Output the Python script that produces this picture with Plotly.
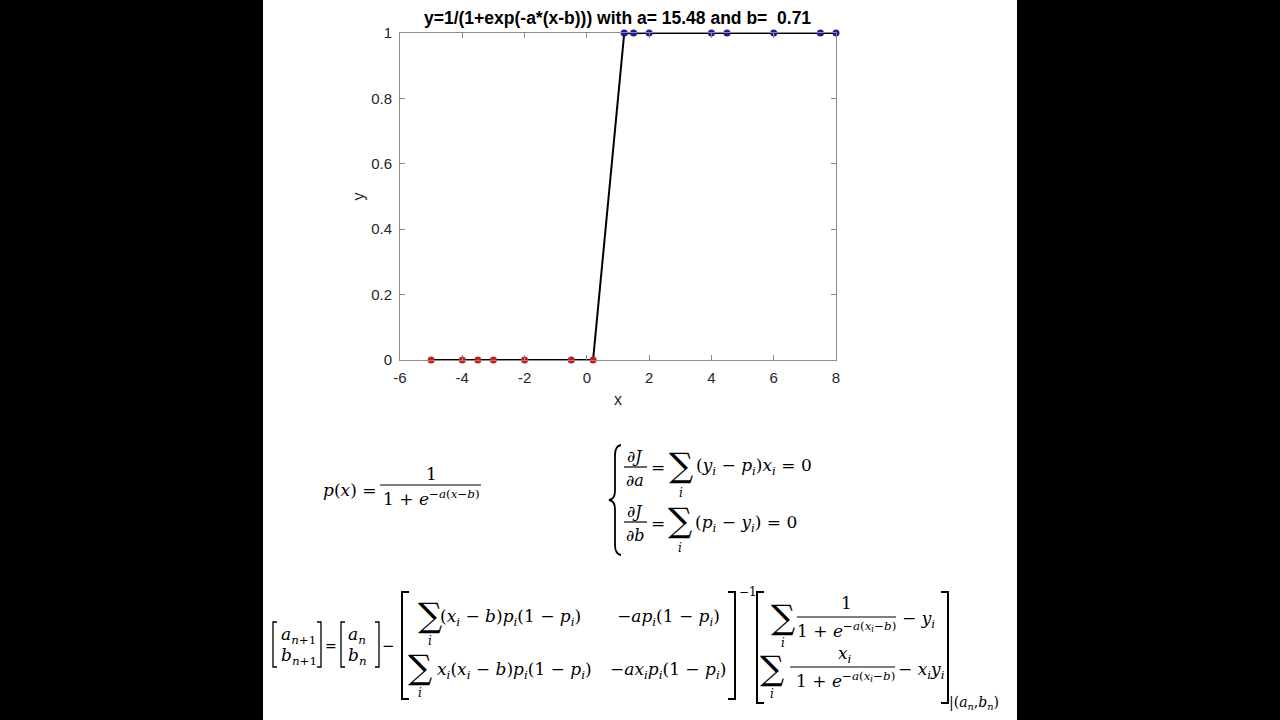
import plotly.graph_objects as go

# ---------------- data ----------------
x_class0 = [-5, -4, -3.5, -3, -2, -0.5, 0.2]
y_class0 = [0, 0, 0, 0, 0, 0, 0]
x_class1 = [1.2, 1.5, 2, 4, 4.5, 6, 7.5, 8]
y_class1 = [1, 1, 1, 1, 1, 1, 1, 1]
fit_x = [-5, -4, -3.5, -3, -2, -0.5, 0.2, 1.2, 1.5, 2, 4, 4.5, 6, 7.5, 8]
fit_y = [0, 0, 0, 0, 0, 0, 0.0004, 0.9995, 1, 1, 1, 1, 1, 1, 1]

title_text = "y=1/(1+exp(-a*(x-b))) with a= 15.48 and b=\u00a0 0.71"
x_ticks = [-6, -4, -2, 0, 2, 4, 6, 8]
y_ticks = [0, 0.2, 0.4, 0.6, 0.8, 1]
y_tick_labels = ["0", "0.2", "0.4", "0.6", "0.8", "1"]

# ---------------- layout helpers ----------------
W, H = 1280, 720
PL, PR, PT, PB = 400, 836, 33, 360


def px(x):
    return (x - PL) / (PR - PL)


def py(y):
    return (PB - y) / (PB - PT)


MATH = "DejaVu Serif"


def T(x, y, text, size=17, xa="left", ya="middle"):
    return dict(x=px(x), y=py(y), xref="paper", yref="paper", text=text,
                showarrow=False, xanchor=xa, yanchor=ya, borderpad=0,
                font=dict(family=MATH, size=size, color="black"))


def L(x0, y0, x1, y1, w=1.2):
    return dict(type="line", xref="paper", yref="paper",
                x0=px(x0), y0=py(y0), x1=px(x1), y1=py(y1),
                line=dict(color="black", width=w))


def PATH(pts, w=1.6):
    d = ""
    for cmd, coords in pts:
        d += cmd + " " + " ".join(f"{px(a):.5f},{py(b):.5f}" for a, b in coords) + " "
    return dict(type="path", xref="paper", yref="paper", path=d.strip(),
                line=dict(color="black", width=w))


def LB(x0, x1, y0, y1, w=1.6):
    return PATH([("M", [(x1, y0)]), ("L", [(x0, y0)]), ("L", [(x0, y1)]), ("L", [(x1, y1)])], w)


def RB(x0, x1, y0, y1, w=1.6):
    return PATH([("M", [(x0, y0)]), ("L", [(x1, y0)]), ("L", [(x1, y1)]), ("L", [(x0, y1)])], w)


def sub(s):
    return f"<sub>{s}</sub>"


ii = sub("<i>i</i>")
SUM = 34

fig = go.Figure()
fig.add_trace(go.Scatter(x=fit_x, y=fit_y, mode="lines",
                         line=dict(color="black", width=2), cliponaxis=False,
                         showlegend=False, hoverinfo="skip"))
fig.add_trace(go.Scatter(x=x_class0, y=y_class0, mode="markers",
                         marker=dict(color="#c81e1e", size=7, line=dict(width=0)), cliponaxis=False,
                         showlegend=False))
fig.add_trace(go.Scatter(x=x_class1, y=y_class1, mode="markers",
                         marker=dict(color="#1c1c9c", size=7, line=dict(width=0)), cliponaxis=False,
                         showlegend=False))

shapes = []
anns = []

# white page
shapes.append(dict(type="rect", xref="paper", yref="paper", layer="below",
                   x0=px(263), x1=px(1017), y0=py(720), y1=py(0),
                   fillcolor="white", line=dict(width=0)))

# title
anns.append(dict(x=px(617), y=py(18), xref="paper", yref="paper", text="<b>" + title_text + "</b>",
                 showarrow=False, xanchor="center", yanchor="middle",
                 font=dict(family="Liberation Sans", size=17.5, color="black")))

# ---- formula 1 ----
anns.append(T(322, 490, "<i>p</i>(<i>x</i>) ="))
anns.append(T(431, 474, "1", xa="center"))
shapes.append(L(380, 485, 481, 485))
anns.append(T(431, 498, "1 + <i>e</i><sup>−<i>a</i>(<i>x</i>−<i>b</i>)</sup>", xa="center"))

# ---- system ----
shapes.append(PATH([("M", [(621, 445)]), ("Q", [(615, 446), (615, 455)]),
                    ("L", [(615, 491)]), ("Q", [(615, 499), (609, 500)]),
                    ("Q", [(615, 501), (615, 509)]), ("L", [(615, 545)]),
                    ("Q", [(615, 554), (621, 555)])], 1.8))
anns.append(T(635, 456, "∂<i>J</i>", 16, "center"))
shapes.append(L(624, 467, 647, 467))
anns.append(T(635, 480, "∂<i>a</i>", 16, "center"))
anns.append(T(650, 467, "="))
anns.append(T(681, 465, "∑", SUM, "center"))
anns.append(T(681, 493, "<i>i</i>", 12, "center"))
anns.append(T(695, 467, "(<i>y</i>" + ii + " − <i>p</i>" + ii + ")<i>x</i>" + ii + " = 0"))

anns.append(T(635, 511, "∂<i>J</i>", 16, "center"))
shapes.append(L(624, 522, 647, 522))
anns.append(T(635, 535, "∂<i>b</i>", 16, "center"))
anns.append(T(650, 523, "="))
anns.append(T(680, 520, "∑", SUM, "center"))
anns.append(T(680, 548, "<i>i</i>", 12, "center"))
anns.append(T(694, 523, "(<i>p</i>" + ii + " − <i>y</i>" + ii + ") = 0"))

# ---- Newton update ----
shapes.append(LB(273, 277, 622, 667, 1.3))
shapes.append(RB(317, 321, 622, 667, 1.3))
anns.append(T(280, 635, "<i>a</i>" + sub("<i>n</i>+1")))
anns.append(T(280, 656, "<i>b</i>" + sub("<i>n</i>+1")))
anns.append(T(331, 646, "=", 14, "center"))
shapes.append(LB(341, 345, 622, 667, 1.3))
shapes.append(RB(375, 379, 622, 667, 1.3))
anns.append(T(347, 635, "<i>a</i>" + sub("<i>n</i>")))
anns.append(T(347, 656, "<i>b</i>" + sub("<i>n</i>")))
anns.append(T(388, 646, "−", 15, "center"))

shapes.append(LB(402, 409, 592, 699, 2))
shapes.append(RB(728, 735, 592, 699, 2))
anns.append(T(430, 615, "∑", SUM, "center"))
anns.append(T(430, 641, "<i>i</i>", 12, "center"))
anns.append(T(582, 617, "(<i>x</i>" + ii + " − <i>b</i>)<i>p</i>" + ii + "(1 − <i>p</i>" + ii + ")", xa="right"))
anns.append(T(721, 617, "−<i>ap</i>" + ii + "(1 − <i>p</i>" + ii + ")", xa="right"))
anns.append(T(420, 667, "∑", SUM, "center"))
anns.append(T(420, 693, "<i>i</i>", 12, "center"))
anns.append(T(593, 670, "<i>x</i>" + ii + "(<i>x</i>" + ii + " − <i>b</i>)<i>p</i>" + ii + "(1 − <i>p</i>" + ii + ")", xa="right"))
anns.append(T(727, 670, "−<i>ax</i>" + ii + "<i>p</i>" + ii + "(1 − <i>p</i>" + ii + ")", xa="right"))
anns.append(T(738, 592, "−1", 12))

shapes.append(LB(757, 764, 592, 703, 2))
shapes.append(RB(941, 948, 592, 703, 2))
anns.append(T(783, 617, "∑", SUM, "center"))
anns.append(T(783, 643, "<i>i</i>", 12, "center"))
anns.append(T(846, 603, "1", xa="center"))
shapes.append(L(797, 617, 896, 617))
anns.append(T(846, 630, "1 + <i>e</i><sup>−<i>a</i>(<i>x</i><sub><i>i</i></sub>−<i>b</i>)</sup>", xa="center"))
anns.append(T(901, 619, "− <i>y</i>" + ii))
anns.append(T(772, 668, "∑", SUM, "center"))
anns.append(T(772, 694, "<i>i</i>", 12, "center"))
anns.append(T(845, 654, "<i>x</i>" + ii, xa="center"))
shapes.append(L(790, 667, 895, 667))
anns.append(T(845, 680, "1 + <i>e</i><sup>−<i>a</i>(<i>x</i><sub><i>i</i></sub>−<i>b</i>)</sup>", xa="center"))
anns.append(T(897, 670, "− <i>x</i>" + ii + "<i>y</i>" + ii))
anns.append(T(948, 703, "|(<i>a</i>" + sub("<i>n</i>") + ",<i>b</i>" + sub("<i>n</i>") + ")", 14))

axis_common = dict(showline=True, linecolor="#8c8c8c", linewidth=1, mirror="ticks",
                   ticks="inside", ticklen=5, tickcolor="#8c8c8c", showgrid=False,
                   zeroline=False, ticklabelstandoff=4,
                   tickfont=dict(family="Liberation Sans", size=15, color="#262626"))

fig.update_layout(
    width=W, height=H, autosize=False,
    margin=dict(l=PL, r=W - PR, t=PT, b=H - PB, pad=0),
    paper_bgcolor="black", plot_bgcolor="white",
    xaxis=dict(range=[-6, 8], tickvals=x_ticks, ticktext=[str(v) for v in x_ticks],
               title=dict(text="x", font=dict(family="Liberation Sans", size=16, color="#262626"), standoff=8),
               **axis_common),
    yaxis=dict(range=[0, 1], tickvals=y_ticks, ticktext=y_tick_labels,
               title=dict(text="y", font=dict(family="Liberation Sans", size=16, color="#262626"), standoff=2),
               **axis_common),
    shapes=shapes, annotations=anns, showlegend=False,
)

fig.write_html("out.html", config={"displayModeBar": False},
               post_script="document.body.style.margin='0';document.body.style.overflow='hidden';")
